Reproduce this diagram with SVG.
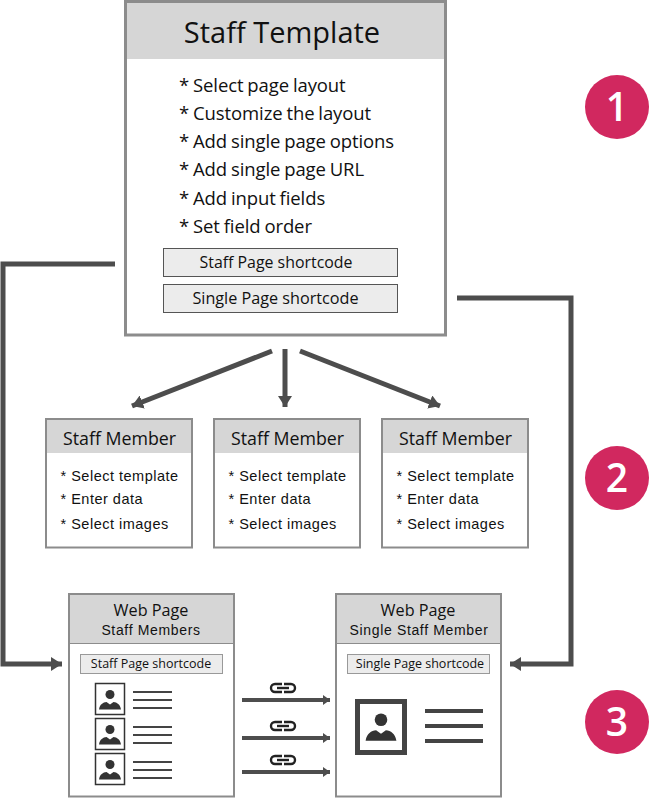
<svg xmlns="http://www.w3.org/2000/svg" xmlns:xlink="http://www.w3.org/1999/xlink" width="650" height="798" viewBox="0 0 650 798">
<style>
text{font-family:"Open Sans","Noto Sans",sans-serif;fill:#111}
.frame{fill:#fff;stroke:#8c8c8c}
.hd{fill:#d6d6d6}
.sc{fill:#ececec}
.conn{fill:none;stroke:#4d4d4d;stroke-width:5}
.mid{text-anchor:middle}
.tpl{font-size:18.500px;letter-spacing:-.1px;word-spacing:-.8px}
.arial{font-family:"Liberation Sans",Arial,sans-serif;font-size:14.500px;letter-spacing:.5px}
.sub{font-size:14px;letter-spacing:.65px}
.ln{stroke:#444;stroke-width:2}
.num{font-family:"Open Sans",sans-serif;font-size:39px;font-weight:600;fill:#fff;text-anchor:middle}
.badge{fill:#d1285f}
</style>
<defs>
<marker id="a" markerUnits="userSpaceOnUse" markerWidth="12" markerHeight="14" refX="11" refY="7" orient="auto"><path d="M0 0L11 7L0 14Z" fill="#4d4d4d"/></marker>
<marker id="b" markerUnits="userSpaceOnUse" markerWidth="8" markerHeight="10" refX="7" refY="5" orient="auto"><path d="M0 0L7 5L0 10Z" fill="#4d4d4d"/></marker>
<g id="person"><circle cx="0" cy="-5.500" r="4.500" fill="#333"/><path d="M-11 9.500C-10 4-7 2.500-3.500 2L0 4.500L3.500 2C7 2.500 10 4 11 9.500Z" fill="#333"/></g>
<g id="chain" fill="none" stroke="#222" stroke-width="2.400"><path d="M-1 -4H-8A4 4 0 0 0 -8 4H-1"/><path d="M1 -4H8A4 4 0 0 1 8 4H1"/><path d="M-6 0H6"/></g>
<g id="thumb"><rect x="-14.500" y="-15.500" width="29" height="31" fill="#fff" stroke="#333" stroke-width="1.500"/><use xlink:href="#person" y="1"/></g>
<g id="lines"><path class="ln" d="M0 0H39M0 8H39M0 16H39"/></g>
</defs>

<g id="connectors">
<path class="conn" d="M115 264H3V664H62" marker-end="url(#a)"/>
<path class="conn" d="M457 298H571V664H510" marker-end="url(#a)"/>
<path class="conn" d="M272 351L132 406" marker-end="url(#a)"/>
<path class="conn" d="M285 349V407" marker-end="url(#a)"/>
<path class="conn" d="M300 351L440 406" marker-end="url(#a)"/>
<path class="conn" style="stroke-width:4" d="M242 700H330" marker-end="url(#b)"/>
<path class="conn" style="stroke-width:4" d="M242 738H330" marker-end="url(#b)"/>
<path class="conn" style="stroke-width:4" d="M242 772H330" marker-end="url(#b)"/>
</g>

<g id="staff-template">
<rect class="frame" x="125.500" y="1.500" width="320" height="333.500" stroke-width="3"/>
<rect class="hd" x="127" y="3" width="317" height="56"/>
<text class="mid" x="282" y="43" font-size="29">Staff Template</text>
<text class="tpl" x="179" y="92">* Select page layout</text>
<text class="tpl" x="179" y="120">* Customize the layout</text>
<text class="tpl" x="179" y="148">* Add single page options</text>
<text class="tpl" x="179" y="176">* Add single page URL</text>
<text class="tpl" x="179" y="205">* Add input fields</text>
<text class="tpl" x="179" y="233">* Set field order</text>
<rect class="sc" x="163.500" y="248.500" width="234" height="28" stroke="#555"/>
<text class="mid" x="276" y="268" font-size="15.900">Staff Page shortcode</text>
<rect class="sc" x="163.500" y="284.500" width="234" height="28" stroke="#555"/>
<text class="mid" x="275.500" y="304" font-size="16.200">Single Page shortcode</text>
</g>

<g id="staff-member-1">
<rect class="frame" x="46" y="419" width="146" height="128.500" stroke-width="2"/>
<rect class="hd" x="47" y="420" width="144" height="33"/>
<text class="mid" x="119.500" y="445" font-size="17.800">Staff Member</text>
<text class="arial" x="60.500" y="481">* Select template</text>
<text class="arial" x="60.500" y="504">* Enter data</text>
<text class="arial" x="60.500" y="529">* Select images</text>
</g>
<g id="staff-member-2">
<rect class="frame" x="214" y="419" width="146" height="128.500" stroke-width="2"/>
<rect class="hd" x="215" y="420" width="144" height="33"/>
<text class="mid" x="287.500" y="445" font-size="17.800">Staff Member</text>
<text class="arial" x="228.500" y="481">* Select template</text>
<text class="arial" x="228.500" y="504">* Enter data</text>
<text class="arial" x="228.500" y="529">* Select images</text>
</g>
<g id="staff-member-3">
<rect class="frame" x="382" y="419" width="146" height="128.500" stroke-width="2"/>
<rect class="hd" x="383" y="420" width="144" height="33"/>
<text class="mid" x="455.500" y="445" font-size="17.800">Staff Member</text>
<text class="arial" x="396.500" y="481">* Select template</text>
<text class="arial" x="396.500" y="504">* Enter data</text>
<text class="arial" x="396.500" y="529">* Select images</text>
</g>

<g id="web-page-staff">
<rect class="frame" x="69" y="594" width="165" height="202.500" stroke-width="2"/>
<rect class="hd" x="70" y="595" width="163" height="48"/>
<path d="M70 643.500H233" stroke="#8c8c8c"/>
<text class="mid" x="151" y="616" font-size="16.200">Web Page</text>
<text class="mid arial sub" x="151" y="635">Staff Members</text>
<rect class="sc" x="80.500" y="654.500" width="142" height="19" stroke="#999"/>
<text class="mid" x="151" y="668" font-size="12.500">Staff Page shortcode</text>
<use xlink:href="#thumb" x="110" y="699"/>
<use xlink:href="#thumb" x="110" y="734"/>
<use xlink:href="#thumb" x="110" y="769"/>
<use xlink:href="#lines" x="133" y="692"/>
<use xlink:href="#lines" x="133" y="727"/>
<use xlink:href="#lines" x="133" y="762"/>
</g>

<g id="web-page-single">
<rect class="frame" x="336" y="594" width="165" height="202.500" stroke-width="2"/>
<rect class="hd" x="337" y="595" width="163" height="48"/>
<path d="M337 643.500H500" stroke="#8c8c8c"/>
<text class="mid" x="418" y="616" font-size="16.200">Web Page</text>
<text class="mid arial sub" x="419" y="635">Single Staff Member</text>
<rect class="sc" x="347.500" y="654.500" width="142" height="19" stroke="#999"/>
<text class="mid" x="420" y="668" font-size="12.500">Single Page shortcode</text>
<rect x="357.500" y="701.500" width="47" height="51" fill="#fff" stroke="#444" stroke-width="5"/>
<use xlink:href="#person" transform="translate(381 727.500) scale(1.400)"/>
<path d="M425 711H483M425 726H483M425 741H483" stroke="#444" stroke-width="4"/>
</g>

<g id="link-icons">
<use xlink:href="#chain" x="283" y="688"/>
<use xlink:href="#chain" x="283" y="726"/>
<use xlink:href="#chain" x="283" y="760"/>
</g>

<g id="badge-1"><circle class="badge" cx="617" cy="107" r="32"/><text class="num" x="617" y="121">1</text></g>
<g id="badge-2"><circle class="badge" cx="617" cy="478" r="32"/><text class="num" x="617" y="492">2</text></g>
<g id="badge-3"><circle class="badge" cx="617" cy="722" r="32"/><text class="num" x="617" y="736">3</text></g>
</svg>
